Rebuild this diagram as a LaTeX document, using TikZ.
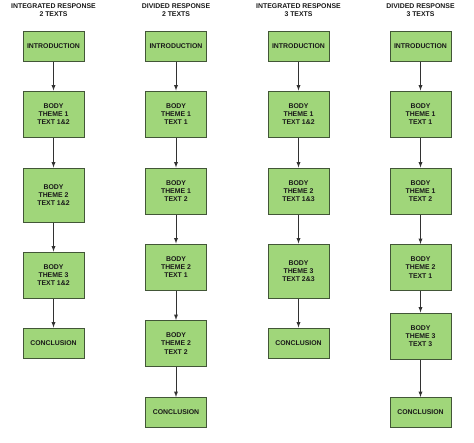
\documentclass[tikz,border=0pt]{standalone}
\usepackage{fontspec}
\setmainfont{Liberation Sans}
\usetikzlibrary{arrows}
\definecolor{boxfill}{RGB}{160,214,122}
\definecolor{boxline}{RGB}{66,86,55}
\definecolor{arrowline}{RGB}{50,50,50}
\begin{document}
\begin{tikzpicture}[x=1pt,y=-1pt,
		title/.style={align=center, font=\fontsize{6.9}{8.2}\selectfont\bfseries, text=black!90},
		part/.style={draw=boxline, fill=boxfill, line width=1pt, minimum width=61pt, align=center, inner sep=0pt, font=\fontsize{6.9}{8.2}\selectfont\bfseries, text=black!90},
		short/.style={part, minimum height=30pt},
		tall/.style={part, minimum height=46pt},
		taller/.style={part, minimum height=54pt},
		link/.style={draw=arrowline, line width=0.9pt, -latex}]
			\useasboundingbox (0,0) rectangle (474,442);
			\node[title] (t1) at (53.5,10.5) {INTEGRATED RESPONSE\\2 TEXTS};
			\node[title] (t2) at (176,10.5) {DIVIDED RESPONSE\\2 TEXTS};
			\node[title] (t3) at (298.5,10.5) {INTEGRATED RESPONSE\\3 TEXTS};
			\node[title] (t4) at (420.5,10.5) {DIVIDED RESPONSE\\3 TEXTS};
			\node[short] (a0) at (53.5,46) {INTRODUCTION};
			\node[tall] (a1) at (53.5,114) {BODY\\THEME 1\\TEXT 1\&2};
			\node[taller] (a2) at (53.5,195) {BODY\\THEME 2\\TEXT 1\&2};
			\node[tall] (a3) at (53.5,275) {BODY\\THEME 3\\TEXT 1\&2};
			\node[short] (a4) at (53.5,343) {CONCLUSION};
			\node[short] (b0) at (176,46) {INTRODUCTION};
			\node[tall] (b1) at (176,114) {BODY\\THEME 1\\TEXT 1};
			\node[tall] (b2) at (176,191) {BODY\\THEME 1\\TEXT 2};
			\node[tall] (b3) at (176,267) {BODY\\THEME 2\\TEXT 1};
			\node[tall] (b4) at (176,343.5) {BODY\\THEME 2\\TEXT 2};
			\node[short] (b5) at (176,412.5) {CONCLUSION};
			\node[short] (c0) at (298.5,46) {INTRODUCTION};
			\node[tall] (c1) at (298.5,114) {BODY\\THEME 1\\TEXT 1\&2};
			\node[tall] (c2) at (298.5,191) {BODY\\THEME 2\\TEXT 1\&3};
			\node[taller] (c3) at (298.5,271) {BODY\\THEME 3\\TEXT 2\&3};
			\node[short] (c4) at (298.5,343) {CONCLUSION};
			\node[short] (d0) at (420.5,46) {INTRODUCTION};
			\node[tall] (d1) at (420.5,114) {BODY\\THEME 1\\TEXT 1};
			\node[tall] (d2) at (420.5,191) {BODY\\THEME 1\\TEXT 2};
			\node[tall] (d3) at (420.5,267.5) {BODY\\THEME 2\\TEXT 1};
			\node[tall] (d4) at (420.5,336) {BODY\\THEME 3\\TEXT 3};
			\node[short] (d5) at (420.5,412.5) {CONCLUSION};
			\draw[link] (a0) -- (a1);
			\draw[link] (a1) -- (a2);
			\draw[link] (a2) -- (a3);
			\draw[link] (a3) -- (a4);
			\draw[link] (b0) -- (b1);
			\draw[link] (b1) -- (b2);
			\draw[link] (b2) -- (b3);
			\draw[link] (b3) -- (b4);
			\draw[link] (b4) -- (b5);
			\draw[link] (c0) -- (c1);
			\draw[link] (c1) -- (c2);
			\draw[link] (c2) -- (c3);
			\draw[link] (c3) -- (c4);
			\draw[link] (d0) -- (d1);
			\draw[link] (d1) -- (d2);
			\draw[link] (d2) -- (d3);
			\draw[link] (d3) -- (d4);
			\draw[link] (d4) -- (d5);
		\end{tikzpicture}
\end{document}
